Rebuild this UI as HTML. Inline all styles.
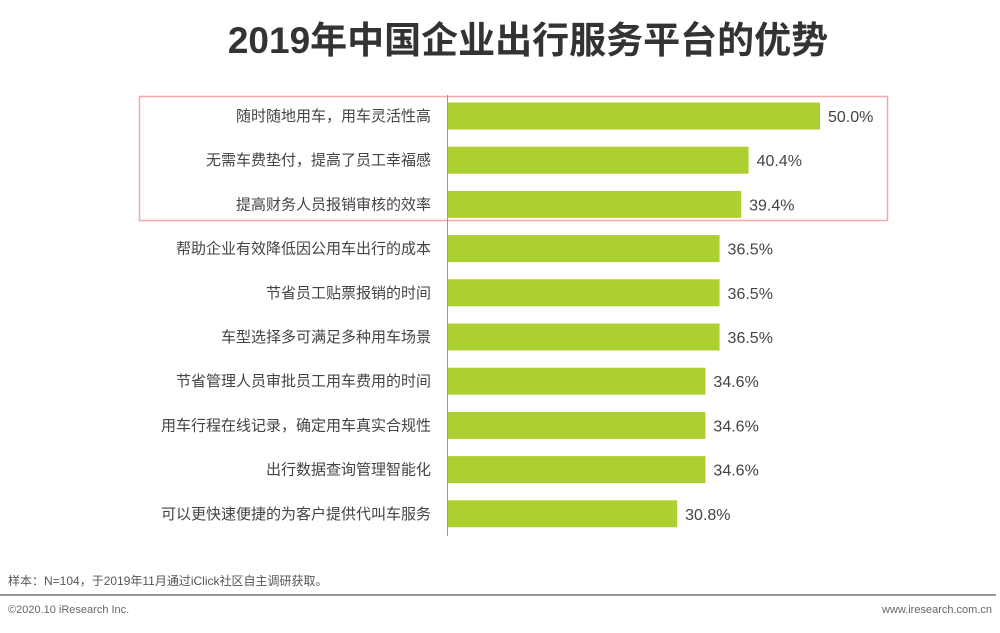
<!DOCTYPE html>
<html><head><meta charset="utf-8"><style>
body{margin:0;width:1000px;height:628px;background:#fff;overflow:hidden;font-family:"Liberation Sans","Noto Sans CJK SC",sans-serif;}
</style></head><body>
<svg width="1000" height="628" xmlns="http://www.w3.org/2000/svg">
<text x="528" y="53" text-anchor="middle" font-size="37" font-weight="bold" fill="#333" font-family="Liberation Sans,Noto Sans CJK SC,sans-serif">2019年中国企业出行服务平台的优势</text>
<rect x="139.5" y="96.5" width="748" height="124" fill="none" stroke="#f4a7ac" stroke-width="1.5"/>
<g id="bars"></g>
<line x1="447.5" y1="95" x2="447.5" y2="536" stroke="#999" stroke-width="1"/>
<text x="8" y="585" font-size="12" fill="#555" font-family="Liberation Sans,Noto Sans CJK SC,sans-serif">样本：N=104，于2019年11月通过iClick社区自主调研获取。</text>
<line x1="0" y1="595" x2="996" y2="595" stroke="#999" stroke-width="2"/>
<text x="8" y="613" font-size="11" fill="#666">©2020.10 iResearch Inc.</text>
<text x="992" y="613" font-size="11" fill="#666" text-anchor="end">www.iresearch.com.cn</text>
</svg>
<script>
const categories=["随时随地用车，用车灵活性高","无需车费垫付，提高了员工幸福感","提高财务人员报销审核的效率","帮助企业有效降低因公用车出行的成本","节省员工贴票报销的时间","车型选择多可满足多种用车场景","节省管理人员审批员工用车费用的时间","用车行程在线记录，确定用车真实合规性","出行数据查询管理智能化","可以更快速便捷的为客户提供代叫车服务"];
const values=[50.0,40.4,39.4,36.5,36.5,36.5,34.6,34.6,34.6,30.8];
const x0=448, pxPer=7.44, y0=116, step=44.2, bh=27;
const xs=v=>x0+v*pxPer, ys=i=>y0+i*step;
const g=document.getElementById('bars'), NS='http://www.w3.org/2000/svg';
categories.forEach((c,i)=>{
 const r=document.createElementNS(NS,'rect');
 r.setAttribute('x',x0);r.setAttribute('y',ys(i)-bh/2);r.setAttribute('width',xs(values[i])-x0);r.setAttribute('height',bh);r.setAttribute('fill','#acd032');
 
 
 g.appendChild(r);
 const l=document.createElementNS(NS,'text');
 l.setAttribute('x',431);l.setAttribute('y',ys(i)+5);l.setAttribute('text-anchor','end');l.setAttribute('font-size','15');l.setAttribute('fill','#444');
 l.setAttribute('font-family','Liberation Sans,Noto Sans CJK SC,sans-serif');
 l.textContent=c;
 
 
 g.appendChild(l);
 const t=document.createElementNS(NS,'text');
 t.setAttribute('x',xs(values[i])+8);t.setAttribute('y',ys(i)+6);t.setAttribute('font-size','16');t.setAttribute('fill','#444');
 t.textContent=values[i].toFixed(1)+'%';
 
 
 g.appendChild(t);
});
</script>
</body></html>
